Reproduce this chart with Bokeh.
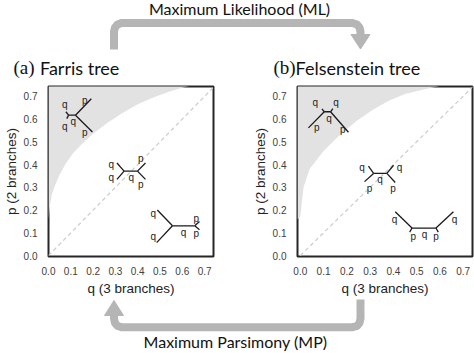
from bokeh.plotting import figure
from bokeh.layouts import column, row
from bokeh.models import Range1d, FixedTicker
from bokeh.core.properties import value
from bokeh.embed import file_html
from bokeh.resources import INLINE

# ---------------- data ----------------
tick_values = [0.0, 0.1, 0.2, 0.3, 0.4, 0.5, 0.6, 0.7]
tick_labels = ["0.0", "0.1", "0.2", "0.3", "0.4", "0.5", "0.6", "0.7"]

# boundary of the shaded zone (q, p)
zone_q_a = [0.0, 0.007, 0.015, 0.03, 0.05, 0.075, 0.11, 0.15, 0.2, 0.26, 0.33, 0.4, 0.47, 0.54, 0.6, 0.65]
zone_p_a = [0.16, 0.22, 0.27, 0.31, 0.355, 0.40, 0.45, 0.49, 0.535, 0.58, 0.625, 0.665, 0.695, 0.72, 0.737, 0.75]
zone_q_b = [-0.012, 0.0, 0.005, 0.014, 0.04, 0.1, 0.17, 0.24, 0.31, 0.38, 0.45, 0.53, 0.62]
zone_p_b = [0.16, 0.17, 0.22, 0.30, 0.38, 0.46, 0.53, 0.59, 0.64, 0.68, 0.71, 0.73, 0.75]

diag_q = [0.0, 0.8]
diag_p = [0.0, 0.8]

# tree branches, panel (a): Farris trees
tree_a_x0 = [0.090, 0.090, 0.090, 0.121, 0.121,
             0.339, 0.339, 0.339, 0.399, 0.399,
             0.556, 0.556, 0.556, 0.656, 0.656]
tree_a_y0 = [0.617, 0.617, 0.617, 0.617, 0.617,
             0.371, 0.371, 0.371, 0.371, 0.371,
             0.131, 0.131, 0.131, 0.131, 0.131]
tree_a_x1 = [0.121, 0.078, 0.082, 0.192, 0.197,
             0.399, 0.307, 0.307, 0.435, 0.435,
             0.656, 0.488, 0.485, 0.677, 0.677]
tree_a_y1 = [0.617, 0.632, 0.602, 0.689, 0.543,
             0.371, 0.407, 0.335, 0.407, 0.335,
             0.131, 0.200, 0.057, 0.150, 0.114]
lab_a_x = [0.073, 0.073, 0.111, 0.163, 0.163,
           0.282, 0.282, 0.371, 0.414, 0.414,
           0.470, 0.470, 0.606, 0.663, 0.663]
lab_a_y = [0.663, 0.569, 0.590, 0.680, 0.543,
           0.402, 0.342, 0.342, 0.425, 0.314,
           0.183, 0.083, 0.103, 0.164, 0.097]
lab_a_t = ["q", "q", "q", "p", "p",
           "q", "q", "q", "p", "p",
           "q", "q", "q", "p", "p"]

# tree branches, panel (b): Felsenstein trees
tree_b_x0 = [0.103, 0.103, 0.103, 0.130, 0.130,
             0.315, 0.315, 0.315, 0.372, 0.372,
             0.480, 0.480, 0.480, 0.583, 0.583]
tree_b_y0 = [0.632, 0.632, 0.632, 0.632, 0.632,
             0.361, 0.361, 0.361, 0.361, 0.361,
             0.121, 0.121, 0.121, 0.121, 0.121]
tree_b_x1 = [0.130, 0.093, 0.035, 0.140, 0.207,
             0.372, 0.293, 0.276, 0.401, 0.408,
             0.583, 0.408, 0.470, 0.658, 0.593]
tree_b_y1 = [0.632, 0.645, 0.561, 0.646, 0.542,
             0.361, 0.393, 0.325, 0.397, 0.321,
             0.121, 0.193, 0.103, 0.193, 0.103]
lab_b_x = [0.064, 0.154, 0.124, 0.071, 0.183,
           0.265, 0.298, 0.343, 0.426, 0.398,
           0.405, 0.486, 0.534, 0.583, 0.663]
lab_b_y = [0.671, 0.671, 0.604, 0.563, 0.552,
           0.388, 0.296, 0.335, 0.388, 0.296,
           0.157, 0.086, 0.093, 0.086, 0.157]
lab_b_t = ["q", "q", "q", "p", "p",
           "q", "p", "q", "q", "p",
           "q", "p", "q", "p", "q"]

# decorative arrows (page pixel coordinates)
ml_arrow_x = [113.5, 113.5, 114.5, 117.0, 121.0, 352.0, 356.5, 359.0, 360.0, 360.0]
ml_arrow_y = [49.0, 31.0, 27.0, 24.0, 22.5, 22.5, 24.0, 27.0, 31.0, 36.0]
ml_head_x = [350.5, 369.5, 360.0]
ml_head_y = [34.0, 34.0, 48.5]
mp_arrow_x = [360.0, 360.0, 359.0, 356.5, 352.0, 121.0, 117.0, 114.5, 113.5, 113.5]
mp_arrow_y = [299.0, 318.0, 322.5, 325.5, 326.7, 326.7, 325.5, 322.5, 318.0, 313.0]
mp_head_x = [104.0, 123.0, 113.5]
mp_head_y = [315.0, 315.0, 300.0]

TOP_H, PANEL_H, BOT_H = 80, 218, 55
ARROW_COL = "#b5b5b5"
SANS = "Liberation Sans"


def deco_figure(height, y0):
    f = figure(width=474, height=height, x_range=Range1d(0, 474),
               y_range=Range1d(y0 + height, y0), output_backend="svg",
               toolbar_location=None, title_location=None,
               x_axis_location=None, y_axis_location=None,
               min_border_left=0, min_border_right=0, min_border_top=0, min_border_bottom=0)
    f.grid.visible = False
    f.outline_line_color = None
    return f


top = deco_figure(TOP_H, 0)
top.line(ml_arrow_x, ml_arrow_y, line_width=8, line_color=ARROW_COL, line_join="round")
top.patch(ml_head_x, ml_head_y, fill_color=ARROW_COL, line_color=ARROW_COL)
top.text(x=[239], y=[7.5], text=["Maximum Likelihood (ML)"], text_font=value("Lato"),
         text_font_size="16px", text_align="center", text_baseline="middle", text_color="#111111")
top.text(x=[13, 273], y=[67, 67], text=["(a)", "(b)"], text_font=value("Liberation Serif"),
         text_font_size="19px", text_align="left", text_baseline="middle", text_color="#111111")
top.text(x=[39.5, 295], y=[67, 67], text=["Farris tree", "Felsenstein tree"], text_font=value("Lato"),
         text_font_size="18px", text_align="left", text_baseline="middle", text_color="#111111")

bottom = deco_figure(BOT_H, TOP_H + PANEL_H)
bottom.line(mp_arrow_x, mp_arrow_y, line_width=8, line_color=ARROW_COL, line_join="round")
bottom.patch(mp_head_x, mp_head_y, fill_color=ARROW_COL, line_color=ARROW_COL)
bottom.text(x=[235], y=[341], text=["Maximum Parsimony (MP)"], text_font=value("Lato"),
            text_font_size="16px", text_align="center", text_baseline="middle", text_color="#111111")


def panel(xr, left, right, zq, zp, x0, y0, x1, y1, lx, ly, lt):
    f = figure(width=237, height=PANEL_H, x_range=Range1d(*xr), y_range=Range1d(-0.004, 0.743),
               output_backend="svg", toolbar_location=None, title_location=None,
               min_border_left=left, min_border_right=right, min_border_top=6, min_border_bottom=38)
    f.grid.visible = False
    f.outline_line_color = "#262626"
    f.outline_line_width = 2
    f.varea(x=zq, y1=zp, y2=0.8, fill_color="#e2e2e2")
    f.line(diag_q, diag_p, line_color="#cccccc", line_dash="4 3", line_width=1.2)
    f.segment(x0=x0, y0=y0, x1=x1, y1=y1, line_color="#1a1a1a", line_width=1.3)
    f.text(x=lx, y=ly, text=lt, text_font=value(SANS), text_font_size="10px",
           text_align="center", text_baseline="middle", text_color="#222222")
    for ax in (f.xaxis[0], f.yaxis[0]):
        ax.ticker = FixedTicker(ticks=tick_values)
        ax.major_label_overrides = dict(zip(tick_values, tick_labels))
        ax.axis_line_color = None
        ax.major_tick_line_color = None
        ax.minor_tick_line_color = None
        ax.major_label_text_font = SANS
        ax.major_label_text_font_size = "10px"
        ax.major_label_text_color = "#404040"
        ax.axis_label_text_font = SANS
        ax.axis_label_text_font_size = "13.5px"
        ax.axis_label_text_font_style = "normal"
        ax.axis_label_text_color = "#222222"
    f.xaxis.axis_label = "q (3 branches)"
    f.yaxis.axis_label = "p (2 branches)"
    f.xaxis.major_label_standoff = 4
    f.xaxis.axis_label_standoff = 3
    f.yaxis.major_label_standoff = 5
    f.yaxis.axis_label_standoff = 2
    return f


pa = panel((0.0, 0.74), 40, 24, zone_q_a, zone_p_a,
           tree_a_x0, tree_a_y0, tree_a_x1, tree_a_y1, lab_a_x, lab_a_y, lab_a_t)
pb = panel((-0.012, 0.74), 60, 2, zone_q_b, zone_p_b,
           tree_b_x0, tree_b_y0, tree_b_x1, tree_b_y1, lab_b_x, lab_b_y, lab_b_t)

layout = column(top, row(pa, pb, spacing=0), bottom, spacing=0)
open("out.html", "w").write(file_html(layout, INLINE))
